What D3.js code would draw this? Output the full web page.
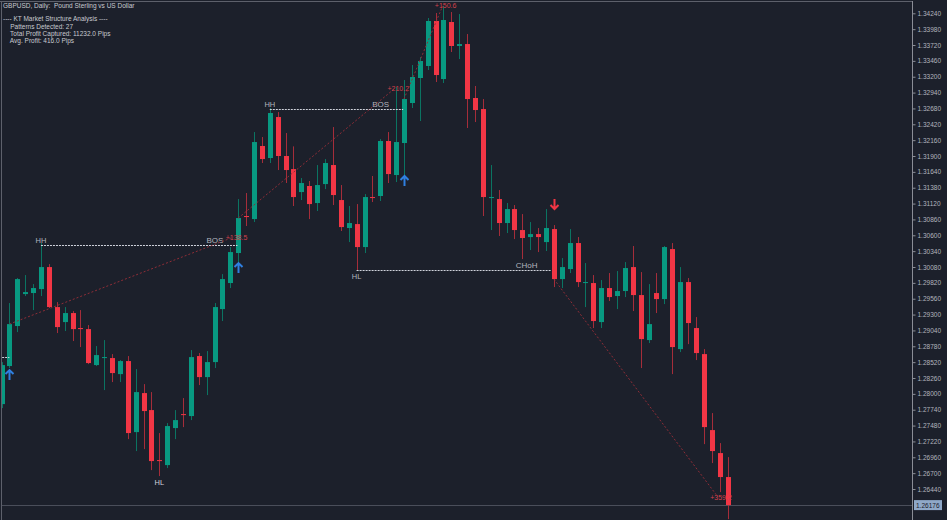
<!DOCTYPE html>
<html><head><meta charset="utf-8">
<script src="https://cdn.jsdelivr.net/npm/d3@7"></script>
<style>
html,body{margin:0;padding:0;background:#1c202b;}
svg{display:block;}
text{font-family:"Liberation Sans",Arial,sans-serif;}
</style></head>
<body>
<svg id="c" width="947" height="520"></svg>
<script>
const opens  = [1.27832,1.28456,1.29112,1.29636,1.29653,1.29718,1.30079,1.29423,1.29177,1.29325,1.29079,1.29062,1.28472,1.28587,1.28587,1.28324,1.28538,1.27373,1.28013,1.27734,1.26914,1.26832,1.27439,1.27668,1.27636,1.28620,1.28275,1.28521,1.29390,1.29817,1.30309,1.30916,1.30866,1.32064,1.31867,1.32539,1.31900,1.31686,1.31309,1.31408,1.31129,1.31440,1.31752,1.31178,1.30719,1.30784,1.30407,1.31227,1.31244,1.32146,1.31588,1.32113,1.32769,1.33179,1.33376,1.34114,1.33162,1.34097,1.33704,1.33736,1.32851,1.32670,1.31211,1.31194,1.30801,1.31030,1.30686,1.30571,1.30620,1.30489,1.30702,1.29882,1.30046,1.30473,1.29817,1.29817,1.29177,1.29735,1.29604,1.29686,1.30079,1.29620,1.28882,1.29653,1.29554,1.30374,1.28734,1.29833,1.29079,1.28652,1.27406,1.27029,1.26636];
const highs  = [1.28521,1.29489,1.29899,1.29948,1.29800,1.30473,1.30128,1.29505,1.29423,1.29358,1.29374,1.29128,1.28784,1.28882,1.28652,1.28554,1.28620,1.28406,1.28160,1.28029,1.27357,1.27521,1.27734,1.27931,1.28718,1.28669,1.28702,1.29489,1.29964,1.30407,1.31194,1.31293,1.32293,1.32211,1.32687,1.32621,1.32277,1.32058,1.31539,1.31490,1.31752,1.31850,1.32375,1.31424,1.31080,1.31112,1.31276,1.31572,1.32178,1.32293,1.33031,1.33146,1.33392,1.33523,1.34163,1.34245,1.34360,1.34261,1.34228,1.33900,1.33048,1.32834,1.31752,1.31342,1.31129,1.31096,1.30948,1.30817,1.30719,1.31030,1.30768,1.30227,1.30702,1.30571,1.30145,1.29948,1.29866,1.29981,1.30014,1.30161,1.30424,1.29997,1.29800,1.29981,1.30424,1.30473,1.30079,1.29899,1.29259,1.28734,1.27685,1.27193,1.26963];
const lows   = [1.27767,1.28423,1.29013,1.29604,1.29374,1.29604,1.29407,1.28997,1.29030,1.28866,1.28767,1.28488,1.28456,1.28062,1.28193,1.28193,1.27258,1.27062,1.27094,1.26750,1.26652,1.26783,1.27258,1.27455,1.27570,1.28144,1.27980,1.28423,1.29194,1.29735,1.30161,1.30752,1.30817,1.31785,1.31785,1.31670,1.31457,1.31080,1.31178,1.30866,1.30998,1.31358,1.31096,1.30670,1.30489,1.30030,1.30309,1.31145,1.31162,1.31457,1.31473,1.31572,1.32687,1.32474,1.33310,1.33113,1.33097,1.33605,1.33490,1.32359,1.32457,1.30916,1.30686,1.30588,1.30637,1.30538,1.30210,1.30358,1.30325,1.30342,1.29751,1.29735,1.29981,1.29751,1.29423,1.29079,1.29079,1.29522,1.29390,1.29587,1.29358,1.28423,1.28833,1.29325,1.29472,1.28324,1.28685,1.28816,1.28554,1.27176,1.26865,1.26389,1.25946];
const closes = [1.28472,1.29144,1.29882,1.29669,1.29735,1.30079,1.29423,1.29095,1.29325,1.29062,1.29062,1.28505,1.28636,1.28603,1.28341,1.28538,1.27357,1.28029,1.27718,1.26898,1.26898,1.27472,1.27570,1.27652,1.28603,1.28275,1.28521,1.29423,1.29882,1.30325,1.30883,1.30899,1.32129,1.31850,1.32605,1.31900,1.31670,1.31227,1.31457,1.31112,1.31424,1.31785,1.31260,1.30735,1.30801,1.30407,1.31227,1.31211,1.32146,1.31604,1.32129,1.32834,1.33195,1.33458,1.34114,1.33228,1.34130,1.33704,1.33736,1.32834,1.32654,1.31227,1.31227,1.30801,1.31030,1.30686,1.30555,1.30620,1.30571,1.30719,1.29882,1.30079,1.30473,1.29833,1.29833,1.29194,1.29735,1.29587,1.29686,1.30063,1.29620,1.28898,1.29144,1.29554,1.30407,1.28767,1.29833,1.29161,1.28669,1.27455,1.27062,1.26636,1.26176];

const tickValues = [1.34240,1.33980,1.33720,1.33460,1.33200,1.32940,1.32680,1.32420,1.32160,1.31900,1.31640,1.31380,1.31120,1.30860,1.30600,1.30340,1.30080,1.29820,1.29560,1.29300,1.29040,1.28780,1.28520,1.28260,1.28000,1.27740,1.27480,1.27220,1.26960,1.26700,1.26440];
const currentPrice = 1.26176;

const infoLines = ["GBPUSD, Daily:  Pound Sterling vs US Dollar", "---- KT Market Structure Analysis ----", "    Patterns Detected: 27", "    Total Profit Captured: 11232.0 Pips", "    Avg. Profit: 416.0 Pips"];
const infoBaselines = [8, 21.2, 28.5, 35.8, 43.1];

// structure levels: start candle, end candle, price, start label, end label
const levelStart = [-0.3, 5, 34, 45];
const levelEnd   = [1.0, 29.9, 50.9, 69.7];
const levelPrice = [1.28603, 1.30440, 1.32670, 1.30030];
const levelLabelA = ["", "HH", "HH", "HL"];
const levelLabelB = ["", "BOS", "BOS", "CHoH"];
const levelLabelAPos = ["", "above", "above", "below"];

// trades: from candle/price to candle/price, with profit label
const tradeFromIdx = [1, 30, 51, 70];
const tradeFromPx  = [1.29144, 1.30883, 1.32834, 1.29882];
const tradeToIdx   = [29.4, 49.9, 55.9, 90.8];
const tradeToPx    = [1.30571, 1.33015, 1.34360, 1.26307];
const tradeLabels  = ["+138.5", "+210.2", "+150.6", "+359.2"];

// signal arrows
const arrowIdx = [1, 30, 51, 70];
const arrowPx  = [1.28308, 1.30063, 1.31490, 1.31112];
const arrowDir = ["up", "up", "up", "down"];

// standalone swing label
const swingIdx = [20];
const swingPx = [1.26652];
const swingLabel = ["HL"];

const W = 947, H = 520;
const svg = d3.select("#c");
const axisX = 912;
const n = opens.length;

const x = d3.scaleLinear().domain([0, n - 1]).range([1.5, 727.5]);
const y = d3.scaleLinear().domain([1.26440, 1.34240]).range([489, 13.3]);

const green = "#089981", red = "#f23645";
const greenWick = "#0b7462", redWick = "#a52d3a";

svg.append("rect").attr("width", W).attr("height", H).attr("fill", "#1c202b");

const plot = svg.append("g");
plot.append("clipPath").attr("id", "clip").append("rect").attr("x", 1).attr("y", 1).attr("width", axisX - 1).attr("height", H);
const g = plot.append("g").attr("clip-path", "url(#clip)");

// current price line
g.append("line").attr("x1", 0).attr("x2", axisX).attr("y1", Math.round(y(currentPrice)) + 0.5).attr("y2", Math.round(y(currentPrice)) + 0.5)
  .attr("stroke", "#4a4e5a").attr("stroke-width", 1);

// candles
const data = d3.range(n).map(i => ({i, o: opens[i], h: highs[i], l: lows[i], c: closes[i]}));
const bw = 5;
const cg = g.append("g");
cg.selectAll("line.wick").data(data).join("line")
  .attr("x1", d => Math.round(x(d.i)) + 0.5).attr("x2", d => Math.round(x(d.i)) + 0.5)
  .attr("y1", d => y(d.h)).attr("y2", d => y(d.l))
  .attr("stroke", d => d.c >= d.o ? greenWick : redWick).attr("stroke-width", 1);
cg.selectAll("rect.body").data(data).join("rect")
  .attr("x", d => Math.round(x(d.i)) - 2)
  .attr("y", d => y(Math.max(d.o, d.c)))
  .attr("width", bw)
  .attr("height", d => Math.max(1, Math.abs(y(d.o) - y(d.c))))
  .attr("fill", d => d.c >= d.o ? green : red);

// structure levels
const lvl = g.append("g");
levelPrice.forEach((p, k) => {
  const yy = Math.round(y(p)) + 0.5;
  lvl.append("line").attr("x1", x(levelStart[k])).attr("x2", x(levelEnd[k]))
    .attr("y1", yy).attr("y2", yy).attr("stroke", "#d0d3dc").attr("stroke-width", 1).attr("stroke-dasharray", "2,1");
  if (levelLabelA[k]) {
    lvl.append("text").attr("x", x(levelStart[k])).attr("y", levelLabelAPos[k] === "above" ? yy - 3 : yy + 8)
      .attr("text-anchor", "middle").attr("font-size", 7.5).attr("fill", "#b2b5be").text(levelLabelA[k]);
  }
  if (levelLabelB[k]) {
    lvl.append("text").attr("x", x(levelEnd[k]) - 14).attr("y", yy - 3)
      .attr("text-anchor", "end").attr("font-size", 8).attr("fill", "#b2b5be").text(levelLabelB[k]);
  }
});

// trades
const tr = g.append("g");
tradeLabels.forEach((lab, k) => {
  tr.append("line").attr("x1", x(tradeFromIdx[k])).attr("y1", y(tradeFromPx[k]))
    .attr("x2", x(tradeToIdx[k])).attr("y2", y(tradeToPx[k]))
    .attr("stroke", "#8e2d37").attr("stroke-width", 1).attr("stroke-dasharray", "2,2");
  tr.append("text").attr("x", x(tradeToIdx[k]) + 3).attr("y", y(tradeToPx[k]) + 2.5)
    .attr("text-anchor", "middle").attr("font-size", 7).attr("fill", "#d2404c").text(lab);
});

// swing labels
swingLabel.forEach((lab, k) => {
  g.append("text").attr("x", x(swingIdx[k])).attr("y", y(swingPx[k]) + 9)
    .attr("text-anchor", "middle").attr("font-size", 7.5).attr("fill", "#d0d3dc").text(lab);
});

// arrows
const ar = g.append("g");
arrowIdx.forEach((idx, k) => {
  const cx = Math.round(x(idx)) + 0.5, cy = y(arrowPx[k]);
  const up = arrowDir[k] === "up";
  const col = up ? "#2f7fe0" : "#f23645";
  const s = up ? 1 : -1;
  ar.append("path")
    .attr("d", `M${cx},${cy - 5 * s} L${cx},${cy + 5 * s} M${cx - 4},${cy - 1 * s} L${cx},${cy - 5 * s} L${cx + 4},${cy - 1 * s}`)
    .attr("fill", "none").attr("stroke", col).attr("stroke-width", 2);
});

// frame
svg.append("line").attr("x1", 0).attr("x2", axisX).attr("y1", 1.5).attr("y2", 1.5).attr("stroke", "#5d606b");
svg.append("line").attr("x1", 1.5).attr("x2", 1.5).attr("y1", 1).attr("y2", H).attr("stroke", "#5d606b");

// axis
const axis = d3.axisRight(y).tickValues(tickValues).tickFormat(d3.format(".5f")).tickSize(3).tickPadding(2);
const ag = svg.append("g").attr("transform", `translate(${axisX + 0.5},0)`).call(axis);
ag.select(".domain").remove();
ag.selectAll(".tick line").attr("stroke", "#8a8d96");
ag.selectAll(".tick text").attr("fill", "#b2b5be").attr("font-size", 6.5).attr("font-family", "Liberation Sans, Arial, sans-serif");
svg.append("line").attr("x1", axisX + 0.5).attr("x2", axisX + 0.5).attr("y1", 1).attr("y2", H).attr("stroke", "#8a8d96");

// current price label
const cy0 = y(currentPrice);
svg.append("rect").attr("x", axisX + 2).attr("y", cy0 - 5).attr("width", 28).attr("height", 10).attr("fill", "#8fa8c8");
svg.append("text").attr("x", axisX + 4).attr("y", cy0 + 2.5).attr("font-size", 6.5).attr("fill", "#1c202b").text(d3.format(".5f")(currentPrice));

// info text
const info = svg.append("g");
infoLines.forEach((t, k) => {
  info.append("text").attr("x", 3).attr("y", infoBaselines[k]).attr("font-size", 6.5).attr("fill", "#c8cad0")
    .attr("xml:space", "preserve").style("white-space", "pre").text(t);
});
</script>
</body></html>
